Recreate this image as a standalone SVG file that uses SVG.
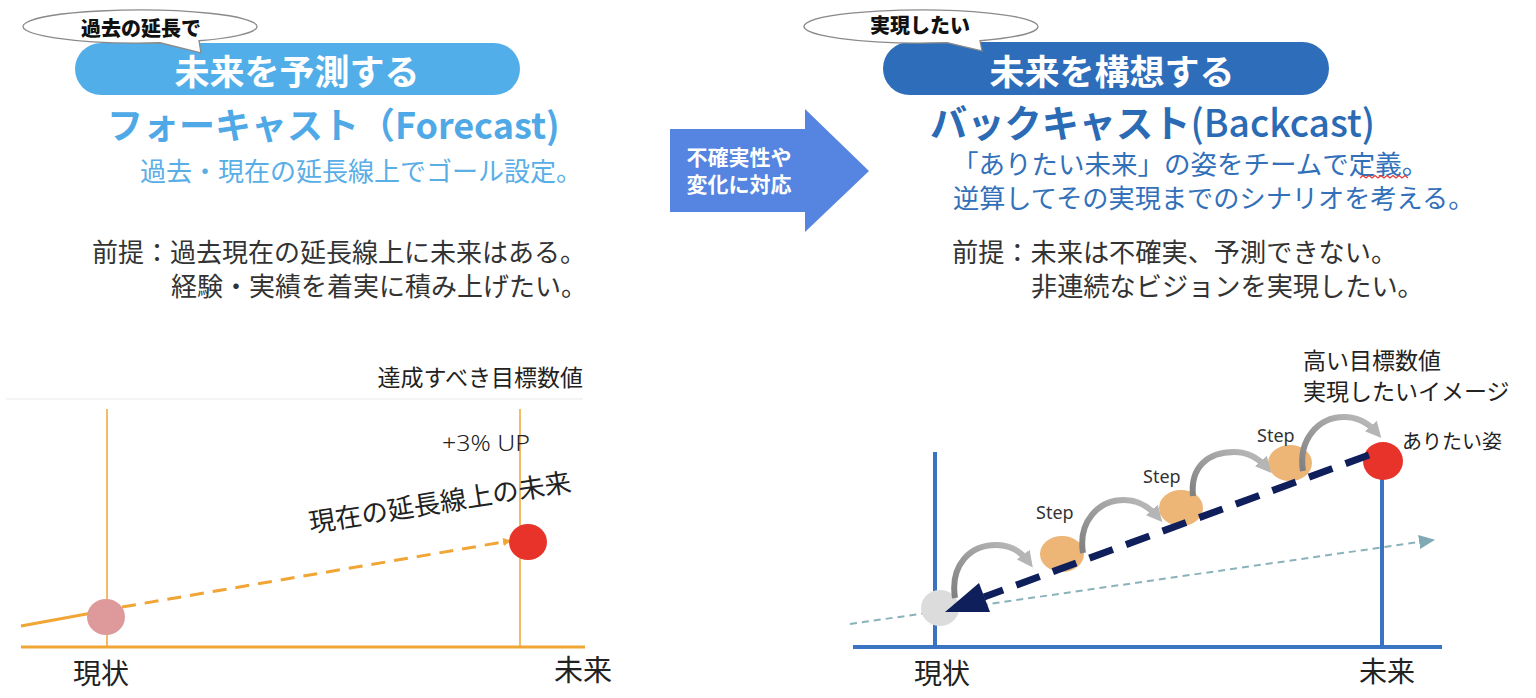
<svg xmlns="http://www.w3.org/2000/svg" width="1536" height="698" viewBox="0 0 1536 698">
<style>
text{font-family:"Noto Sans CJK JP","Noto Sans",sans-serif}
.bub{fill:#fff;stroke:#8a8a8a;stroke-width:1.3}
.bubt{font-size:20px;font-weight:900;fill:#111;text-anchor:middle}
.bart{font-size:35px;font-weight:bold;fill:#fff;text-anchor:middle}
.dark{fill:#333}
.lbl{fill:#222}
.oax{stroke:#F0A535;fill:none}
.bax{stroke:#3A73C2;stroke-width:4;fill:none}
.hop{fill:none;stroke:url(#gg);stroke-width:6}
.step{font-family:"Noto Sans","Noto Sans CJK JP",sans-serif;font-size:18px;fill:#333}
</style>
<defs>
<linearGradient id="gg" x1="0" y1="1" x2="1" y2="0">
<stop offset="0" stop-color="#808080"/>
<stop offset="1" stop-color="#bdbdbd"/>
</linearGradient>
<marker id="ah" markerWidth="8" markerHeight="8" refX="6" refY="4" orient="auto" markerUnits="userSpaceOnUse"><path d="M0,0 L8,4 L0,8 Z" fill="#F0A535"/></marker>
<marker id="th" markerWidth="16" markerHeight="14" refX="14" refY="7" orient="auto" markerUnits="userSpaceOnUse"><path d="M0,0 L16,7 L0,14 Z" fill="#7FA9B4"/></marker>
<marker id="gh" markerWidth="16" markerHeight="16" refX="8" refY="8" orient="auto" markerUnits="userSpaceOnUse"><path d="M0,0 L16,8 L0,16 Z" fill="#b5b5b5"/></marker>
</defs>
<rect width="1536" height="698" fill="#fff"/>

<!-- Left header -->
<g id="bar-forecast">
<rect x="75" y="43" width="445" height="52" rx="26" fill="#52AEE8"/>
<text class="bart" x="297" y="85">未来を予測する</text>
</g>
<g id="bubble-left">
<path class="bub" d="M160,42.76 A117,16.5 0 1 1 199,40.75 L201,53 Z"/>
<text class="bubt" x="141" y="36">過去の延長で</text>
</g>
<g id="title-forecast">
<text x="107" y="139" font-size="36" font-weight="bold" fill="#4FA9E6">フォーキャスト（Forecast)</text>
<text x="140" y="181" font-size="26" fill="#5AAEE6">過去・現在の延長線上でゴール設定。</text>
</g>
<g id="premise-left" class="dark">
<text x="92" y="262" font-size="26">前提：過去現在の延長線上に未来はある。</text>
<text x="171" y="296" font-size="26">経験・実績を着実に積み上げたい。</text>
</g>

<!-- Middle arrow -->
<g id="arrow-middle">
<path d="M670,129 L805,129 L805,109 L869,171 L805,232 L805,212 L670,212 Z" fill="#5585E0"/>
<text x="739" y="165" font-size="21" font-weight="bold" fill="#fff" text-anchor="middle">不確実性や</text>
<text x="739" y="192" font-size="21" font-weight="bold" fill="#fff" text-anchor="middle">変化に対応</text>
</g>

<!-- Right header -->
<g id="bar-backcast">
<rect x="883" y="42" width="446" height="53" rx="26.5" fill="#2E6DB9"/>
<text class="bart" x="1112" y="85">未来を構想する</text>
</g>
<g id="bubble-right">
<path class="bub" d="M947,42.59 A117,16.5 0 1 1 980,40.75 L982,51 Z"/>
<text class="bubt" x="920" y="33">実現したい</text>
</g>
<g id="title-backcast">
<text x="930" y="137" font-size="38" font-weight="bold" fill="#2B6AB4" textLength="445" lengthAdjust="spacingAndGlyphs">バックキャスト<tspan font-weight="500">(Backcast)</tspan></text>
<text x="952" y="174" font-size="26.5" fill="#3270BA">「ありたい未来」の姿をチームで定義。</text>
<text x="953" y="208" font-size="26.2" fill="#3270BA">逆算してその実現までのシナリオを考える。</text>
<path d="M1360,178 l3,-2.5 l3,2.5 l3,-2.5 l3,2.5 l3,-2.5 l3,2.5 l3,-2.5 l3,2.5 l3,-2.5 l3,2.5 l3,-2.5 l3,2.5 l3,-2.5 l3,2.5 l3,-2.5 l3,2.5" fill="none" stroke="#E53935" stroke-width="1.2"/>
</g>
<g id="premise-right" class="dark">
<text x="952" y="262" font-size="26.2">前提：未来は不確実、予測できない。</text>
<text x="1031" y="296" font-size="26.2">非連続なビジョンを実現したい。</text>
</g>

<!-- Left chart -->
<g id="chart-left-axes">
<line x1="6" y1="399" x2="583" y2="399" stroke="#f1f1f1" stroke-width="1.5"/>
<line class="oax" x1="107" y1="409" x2="107" y2="647" stroke-width="1.5"/>
<line class="oax" x1="520" y1="409" x2="520" y2="647" stroke-width="1.5"/>
<line class="oax" x1="21" y1="647" x2="585" y2="647" stroke-width="3"/>
</g>
<g id="label-target-left">
<text class="lbl" x="583" y="386" font-size="23" text-anchor="end">達成すべき目標数値</text>
<text class="lbl" x="442" y="451" font-size="22" font-weight="300" style="font-family:'Noto Sans',sans-serif" textLength="88" lengthAdjust="spacingAndGlyphs">+3% UP</text>
</g>
<g id="connectors-left">
<line x1="21" y1="626" x2="92" y2="613" stroke="#F0A535" stroke-width="3"/>
<line x1="122" y1="607" x2="509" y2="541" stroke="#F0A535" stroke-width="3" stroke-dasharray="14 9" marker-end="url(#ah)"/>
</g>
<g id="node-now-left"><ellipse cx="106" cy="617" rx="19" ry="18" fill="#DE9A9B"/></g>
<g id="node-future-left"><ellipse cx="528" cy="542" rx="19" ry="18" fill="#E8332A"/></g>
<g id="label-extension">
<text class="lbl" transform="translate(440,503) rotate(-9)" x="0" y="9" font-size="26.5" text-anchor="middle">現在の延長線上の未来</text>
</g>
<g id="axis-labels-left" class="lbl">
<text x="73" y="684" font-size="28">現状</text>
<text x="554" y="681" font-size="29">未来</text>
</g>

<!-- Right chart -->
<g id="chart-right-axes">
<line class="bax" x1="935" y1="452" x2="935" y2="647"/>
<line class="bax" x1="1382" y1="476" x2="1382" y2="647"/>
<line class="bax" x1="853" y1="647" x2="1442" y2="647"/>
</g>
<g id="connectors-right">
<line x1="850" y1="624" x2="1433" y2="540" stroke="#8AB2BB" stroke-width="2" stroke-dasharray="7 5" marker-end="url(#th)"/>
</g>
<g id="node-now-right"><ellipse cx="940" cy="608" rx="19" ry="18" fill="#DCDCDC"/></g>
<g id="node-step1"><ellipse cx="1062" cy="554" rx="22" ry="18" fill="#EDB576"/></g>
<g id="node-step2"><ellipse cx="1181" cy="508" rx="22" ry="18" fill="#EDB576"/></g>
<g id="node-step3"><ellipse cx="1290" cy="463" rx="22" ry="18" fill="#EDB576"/></g>
<g id="node-goal"><ellipse cx="1383" cy="461" rx="20" ry="19" fill="#E8332A"/></g>
<g id="connectors-backcast">
<line x1="1369" y1="455" x2="984" y2="597" stroke="#0F1F5C" stroke-width="7" stroke-dasharray="25 14"/>
<path d="M945,612 L979,583 L990,612 Z" fill="#0F1F5C"/>
<path class="hop" d="M955,598 C950,565 970,545 996,545 C1012,545 1022,553 1028,561" marker-end="url(#gh)"/>
<path class="hop" d="M1083,553 C1078,522 1098,500 1124,500 C1140,500 1150,508 1157,516" marker-end="url(#gh)"/>
<path class="hop" d="M1193,496 C1190,467 1208,452 1234,452 C1250,452 1259,459 1266,467" marker-end="url(#gh)"/>
<path class="hop" d="M1303,471 C1298,440 1318,417 1344,417 C1360,417 1369,424 1376,432" marker-end="url(#gh)"/>
</g>
<g id="labels-right">
<text class="step" x="1036" y="519">Step</text>
<text class="step" x="1143" y="483">Step</text>
<text class="step" x="1257" y="442">Step</text>
<text class="lbl" x="1402" y="449" font-size="20">ありたい姿</text>
<text class="lbl" x="1303" y="369" font-size="23">高い目標数値</text>
<text class="lbl" x="1303" y="400" font-size="23">実現したいイメージ</text>
<text class="lbl" x="914" y="684" font-size="28">現状</text>
<text class="lbl" x="1359" y="682" font-size="28">未来</text>
</g>
</svg>
